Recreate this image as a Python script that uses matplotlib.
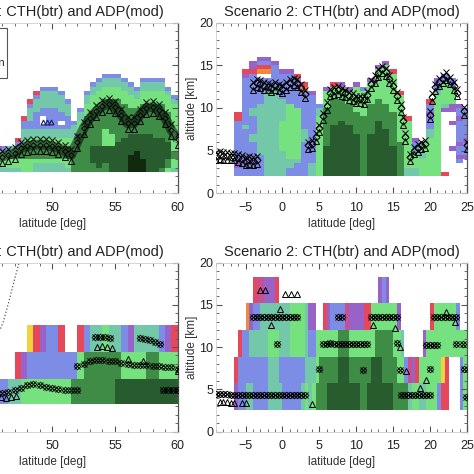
import matplotlib
matplotlib.use("Agg")
import matplotlib.pyplot as plt
import numpy as np
from matplotlib.colors import ListedColormap, BoundaryNorm
from matplotlib.patches import Rectangle
from matplotlib.ticker import MultipleLocator

plt.rcParams['font.family'] = ['Liberation Sans', 'DejaVu Sans']

# colour classes of the cross sections ('.' = no cloud)
codes = "KDMLTBPQROY"
code_colors = ["#10290f", "#285c2f", "#3f8c47", "#76e27f", "#72c8a8", "#7d8de6",
               "#9863c8", "#c9508e", "#e6475a", "#f08a36", "#f2d03e"]

# ---- top left: scenario 1, columns of 0.5 deg, cells of 0.5 km from 2.5 km up
tl_lat0, tl_dlat, tl_alt0, tl_dalt = 45.0, 0.5, 2.5, 0.5
tl_columns = [
    "TTLLLP", "TTLLLP", "TLLLLB", "TLLMLT", "TLLMMLBR",
    "LLLMMMLTTTBBR", "LLLMMMLLTTBBTTTBR", "TTLMMMLLTTBBBBTTTBR",
    "TTLMMMLLTTB..BBTTTTB", "TTLMMMLLTTBBBBBTTTTB", "TTLMMMLLTTBBBBBTTTTB",
    "TTLMMMLLTTB.BBTTTTB", "TLLMMMLLTTBBBTTTB", "MMMMMLLLTTTB",
    "MMMMMMMMMLLLTTB", "MMMMMMMMMMMMMLLLTTB", "MMDDDDMMMMMMMMLLLLTTB",
    "MDDDDDMMMMMMMMMLLLLTTB", "MMDDDDLLLLMMMMMMMLLLTTB", "DDDDDDLLLMMMMMMMMLLLTTB",
    "DDDDDDDMMMMMMMMMMLLLTTB", "DDDDDDDDMMMMMMMMLLLTTB", "KKKKDDDDDMMMMMMLLLTTB",
    "KKKKKDDDDMMMMMMLLTTB", "KKKDDDDDDMMMMMMMLLLTTB", "DDDDDDDDDMMMMMMMLLLTTB",
    "DDDDDDDDMMMMMMMMLLLTTB", "MDDDDDDDMMMMMMMMLLLTTB", "LMMDDDDMMMMMMMLLLLTB",
    "TLLMMLLLLLLLLLLLTB",
]
tl_band_lat = [45.5, 46.0, 46.5, 47.0, 47.5, 48.0, 48.5, 49.0, 49.5, 50.0, 50.5,
               51.0, 51.5, 52.0, 52.5, 53.0, 53.5, 54.0, 54.5, 55.0, 55.5, 56.0,
               56.5, 57.0, 57.5, 58.0, 58.5, 59.0, 59.5, 60.0]
tl_band_alt = [4.2, 4.3, 4.5, 4.7, 5.3, 5.5, 5.7, 5.7, 5.7, 5.5, 5.3,
               4.9, 4.5, 6.0, 7.6, 8.8, 9.6, 10.2, 10.5, 10.1, 9.2, 8.2,
               8.2, 9.2, 10.0, 10.1, 9.7, 8.8, 7.4, 6.3]
tl_spot_lat = [49.3, 49.6, 49.9]
tl_spot_alt = [8.3, 8.4, 8.3]

# ---- top right: scenario 2, columns of 1 deg, cells of 0.5 km from 2 km up
tr_lat0, tr_dlat, tr_alt0, tr_dalt = -6.5, 1.0, 2.0, 0.5
tr_columns = [
    "BBPBBBBBBBBBBRR", "BBBBPBBBBBBTBBBBBBBBBBBPR", "BBBPBBBBTTBBBBTTBBBBBBBBRPP",
    "BBBBBTTTTTTTTTTTTBBBBBB.ORBP", "TTTTTTTTTTTTTTTTTTTTBBB.ORBP",
    "TTTTTTTTTTTTTTTTTTTTTBBBBBP", "TTTTTTLLLLLLLTTTTTBBBBBBP",
    "BBTTLLLLLLLLLLLLLBBBBBBBP", "BBBTLLLLLLLLLLLLBBBBBBBR", "BBBBBBBBTTTBBBBBBBBBOR",
    "TTTBBBBBBBBBBBBBBBBP", "LLLLLLLLLLLLLLTTB", "DDDDDDDMMMMMMMMMLLLLP",
    "DDDDDDDDDDDDMMMMMMLLLR", "DDDDDDDDDDDDDMMMMMLLLP", "DDDDDDDDDDDDMMMMMLLLP",
    "DDDDDDDDDDMMMMMLLLLLLP", "MMMMMMMMMMMMMMLLLLLLB", "DDDDDDDDDDMMMMMMMLLLLLP",
    "DDDDDDDDDDDDDMMMMMLLLLLLLP", "DDDDDDDDDDDMMMMMMLLLLLLLLLP",
    "DDDDDDDMMMMMMMMLLLLLLLLLR", "MMMMMMMMLLLLLLLLLLLR", "TTLLLLLLLLLLLR",
    "TTLLLTBBP", "LLLLTTLT", "LLLLLLLLLTTBBBPBBR", "LLLLLLLLLLLLLLLLLLLTBBP",
    "R..............PTLLLLLBB", "......P.....P..PPLLLLBB", "...BPBBPBBBBBPBBP",
    "....PBBBPBBBBBBB",
]
tr_cth_lat = [-9.0, -8.5, -8.0, -7.5, -7.0, -6.5, -6.0, -5.5, -5.0, -4.5, -4.0, -3.5,
              -4.0, -3.5, -3.0, -2.5, -2.0, -1.5, -1.0, -0.5, 0.0, 0.5, 1.0, 1.5,
              2.0, 2.5, 3.0, 3.5, 4.0, 4.5, 5.0, 5.5, 6.0, 6.5, 7.0, 7.5, 8.0,
              8.5, 9.0, 9.5, 10.0, 10.5, 11.0, 11.5, 12.0, 12.5, 13.0, 13.5, 14.0,
              14.5, 15.0, 15.5, 16.0, 16.3, 16.6, 17.3, 17.8, 18.3, 18.8, 19.3,
              20.0, 20.2, 20.7, 21.2, 21.7, 22.2, 22.7, 23.2, 23.7, 24.6, 25.0]
tr_cth_alt = [4.4, 4.5, 4.4, 4.4, 4.3, 4.3, 4.1, 4.0, 3.8, 3.9, 3.8, 3.9,
              12.6, 12.9, 12.8, 12.6, 12.5, 12.3, 12.6, 12.4, 12.2, 12.6, 12.9, 13.1,
              12.9, 12.3, 11.6, 5.6, 5.8, 6.6, 7.6, 9.0, 10.2, 11.8, 12.0, 12.1, 11.9,
              11.7, 11.4, 11.3, 11.0, 11.0, 10.9, 11.5, 12.8, 13.4, 14.1, 14.5, 14.2,
              13.4, 12.6, 11.4, 10.0, 8.5, 6.6, 4.2, 5.0, 5.3, 5.6, 5.8,
              9.2, 11.3, 12.4, 13.0, 13.4, 13.7, 13.2, 12.6, 11.8, 9.6, 5.6]

# ---- bottom left: scenario 1, three 3 km layers, strips of 0.5 deg
bl_lat0, bl_dlat = 45.0, 0.5
bl_alt_edges = [3.2, 6.25, 9.4, 12.55]
bl_layers = [
    "BBBTTLLLLLLLLMMMMMMMDDDDDDDDDD",
    "....RPBBBBBBBBLMMMMMMLLLLMMLLL",
    "......YRPBBR..RBTTLTTBPTTTTBPR",
]
bl_chain_lat = [45.5, 46.0, 46.5, 47.0, 47.5, 48.0, 48.5, 49.0, 49.5, 50.0, 50.5, 51.0,
                51.5, 52.0, 52.0, 52.5, 53.0, 53.5, 54.0, 54.5, 55.0, 55.5, 56.0,
                56.5, 57.0, 57.5, 58.0, 58.5, 59.0, 59.5, 60.0,
                53.4, 53.8, 54.2, 54.6, 57.0, 57.4, 57.8, 58.2, 58.6,
                58.8, 59.2, 59.6, 60.0]
bl_chain_alt = [4.6, 4.6, 4.7, 4.9, 5.2, 5.5, 5.6, 5.5, 5.3, 5.1, 5.0, 4.9,
                4.9, 4.9, 7.8, 8.0, 8.3, 8.5, 8.5, 8.4, 8.3, 8.1, 8.0,
                7.9, 7.9, 7.9, 7.8, 7.7, 7.6, 7.6, 7.4,
                11.2, 11.2, 11.2, 11.1, 11.1, 11.0, 10.8, 10.6, 10.4,
                4.9, 4.9, 4.9, 4.9]
bl_tri_lat = [45.9, 46.3, 46.7, 47.1, 53.6, 54.0, 54.4, 54.8, 56.0, 57.2, 60.0]
bl_tri_alt = [4.1, 4.0, 4.1, 4.2, 10.0, 10.1, 10.0, 9.9, 8.6, 8.4, 7.2]
bl_dots_lat = [45.5, 45.84, 46.1, 46.5, 47.0, 47.4]
bl_dots_alt = [11.3, 12.0, 13.0, 15.1, 18.0, 20.2]

# ---- bottom right: scenario 2, five 3 km layers, strips of 0.5 deg
br_lat0, br_dlat = -7.0, 0.5
br_alt_edges = [2.6, 5.7, 8.85, 12.0, 15.15, 18.3]
br_layers = [
    ".PBBTTBBBBTTTTBBBBBTLTLMMMDDDDDDDDDMMDDDDDDDMMMMTLLTTLLLBRR...BL",
    ".RBBBBBBBBTTTBBBBBBBTTTLMMMMMDDDMMMMMMDDDMMMMLLBQPRLLLLLLYR...BL",
    "..RBBTTTTTLLLTTTLLLLTBBLLLLLLMMMLLLLLLLMMMMMLLT.....PLLLLLLLLLLL",
    "....OPBBTTTTTTTTLLLLTPP..RPBBBBQPPPPRRLLLLLLLP........RLLLLLLB..",
    "......RQQPPPR...........................PBP.....................",
]
br_chain_lat = [-9.0, -8.5, -8.0, -7.5, -7.0, -6.5, -6.0, -5.5, -5.0, -4.5, -4.0,
                -3.5, -3.0, -2.5, -2.0, -1.5, -1.0, -0.5, 0.0, 0.5, 1.0, 1.5, 2.0,
                2.5, 3.0,
                -4.0, -3.5, -3.0, -2.5, -2.0, -1.5, -1.0, -0.5, 0.0, 0.5, 1.0, 1.5,
                2.0, 7.5, 8.0, 12.0, 12.5, 13.0, 13.5, 14.0, 14.5, 15.0, 15.5,
                20.5, 21.0, 21.5, 22.0, 22.5, 23.0, 23.5,
                -0.8, 5.5, 6.0, 6.5, 7.0, 7.5, 8.0, 8.5, 9.0, 9.5, 10.0, 10.5,
                11.0, 11.5, 15.5, 19.5, 20.0, 20.5, 21.0, 23.5, 24.5,
                5.0, 10.9, 15.9, 20.0, 24.6,
                16.0, 16.5, 17.0, 17.5, 18.0, 18.5, 19.0, 19.5, 20.0, 24.8]
br_chain_alt = [4.4, 4.4, 4.4, 4.4, 4.3, 4.3, 4.3, 4.3, 4.3, 4.3, 4.3,
                4.3, 4.3, 4.3, 4.3, 4.3, 4.3, 4.3, 4.3, 4.3, 4.3, 4.3, 4.3,
                4.3, 4.3,
                13.5, 13.5, 13.5, 13.5, 13.5, 13.5, 13.5, 13.5, 13.5, 13.5, 13.5, 13.5,
                13.5, 13.5, 13.5, 13.5, 13.5, 13.5, 13.5, 13.5, 13.5, 13.5, 13.5,
                13.5, 13.5, 13.5, 13.5, 13.5, 13.5, 13.5,
                10.4, 10.4, 10.4, 10.5, 10.4, 10.4, 10.4, 10.4, 10.3, 10.4, 10.4, 10.4,
                10.4, 10.4, 10.5, 10.2, 10.2, 10.2, 10.2, 10.4, 10.4,
                7.4, 7.3, 7.3, 7.4, 7.4,
                4.3, 4.3, 4.3, 4.3, 4.3, 4.3, 4.3, 4.3, 4.3, 4.1]
br_tri_lat = [-8.5, -8.0, -7.5, -7.0, -6.5, -5.5, -5.0, -3.0, -2.4, 0.4, 1.2, 2.0,
              -1.6, -0.3, 4.0, 12.3, 15.3, 15.9, 16.7, 18.7, 19.4, 22.1, 23.4]
br_tri_alt = [3.5, 3.5, 3.5, 3.4, 3.4, 3.4, 3.4, 16.7, 16.7, 16.3, 16.3, 16.3,
              12.6, 14.5, 3.3, 12.6, 12.3, 10.0, 7.2, 5.1, 6.1, 14.2, 12.9]

cmap = ListedColormap(code_colors)
norm = BoundaryNorm(np.arange(len(codes) + 1) - 0.5, len(codes))


def columns_grid(columns):
    nrows = max(len(c) for c in columns)
    grid = np.full((nrows, len(columns)), np.nan)
    for j, col in enumerate(columns):
        for i, ch in enumerate(col):
            if ch != '.':
                grid[i, j] = codes.index(ch)
    return grid


def layers_grid(layers):
    grid = np.full((len(layers), len(layers[0])), np.nan)
    for i, row in enumerate(layers):
        for j, ch in enumerate(row):
            if ch != '.':
                grid[i, j] = codes.index(ch)
    return grid


def draw_cells(ax, lat_edges, alt_edges, grid):
    ax.pcolormesh(lat_edges, alt_edges, np.ma.masked_invalid(grid), cmap=cmap,
                  norm=norm, shading='flat', antialiased=False, linewidth=0, zorder=1)


def style(ax, xlim, title, title_x=0.5):
    ax.set_xlim(*xlim)
    ax.set_ylim(0, 20)
    ax.xaxis.set_major_locator(MultipleLocator(5))
    ax.xaxis.set_minor_locator(MultipleLocator(1))
    ax.yaxis.set_major_locator(MultipleLocator(5))
    ax.yaxis.set_minor_locator(MultipleLocator(1))
    ax.tick_params(which='both', direction='in', top=True, right=True,
                   colors='#555555', labelcolor='#222222', labelsize=9)
    ax.tick_params(which='major', length=4.5, width=0.8)
    ax.tick_params(which='minor', length=2.2, width=0.6)
    ax.tick_params(axis='x', pad=6)
    ax.tick_params(axis='y', pad=2)
    for side in ['left', 'top', 'bottom']:
        ax.spines[side].set_color('#d0d0d0')
        ax.spines[side].set_linewidth(0.6)
    ax.spines['right'].set_color('#555555')
    ax.spines['right'].set_linewidth(0.9)
    ax.set_title(title, fontsize=10.5, pad=4.5, color='#222222', x=title_x)
    ax.set_xlabel('latitude [deg]', fontsize=8.5, labelpad=3, color='#333333')
    ax.set_ylabel('altitude [km]', fontsize=8.5, labelpad=1, color='#333333')


def draw_marks(ax, lat, alt, ms, dy):
    lat = np.asarray(lat)
    alt = np.asarray(alt)
    ax.plot(lat, alt + dy, ls='none', marker='x', ms=ms, mew=0.7, color='k', zorder=3)
    ax.plot(lat, alt, ls='none', marker='D', ms=ms * 0.75, mew=0.7, mfc='none',
            mec='k', zorder=3)
    ax.plot(lat, alt - dy, ls='none', marker='^', ms=ms, mew=0.7, mfc='none',
            mec='k', zorder=3)


W = 474.0
fig = plt.figure(figsize=(4.74, 4.74), dpi=100)
ax_tl = fig.add_axes([-73.3 / W, 1 - 193.3 / W, 251 / W, 170.8 / W])
ax_tr = fig.add_axes([216 / W, 1 - 193.3 / W, 251 / W, 170.8 / W])
ax_bl = fig.add_axes([-73.3 / W, 1 - 431.5 / W, 251 / W, 169 / W])
ax_br = fig.add_axes([216 / W, 1 - 431.5 / W, 251 / W, 169 / W])

# top left
g = columns_grid(tl_columns)
draw_cells(ax_tl, tl_lat0 + tl_dlat * np.arange(g.shape[1] + 1),
           tl_alt0 + tl_dalt * np.arange(g.shape[0] + 1), g)
ax_tl.plot(tl_band_lat, tl_band_alt, color='k', lw=7, alpha=0.5, zorder=2,
           solid_capstyle='butt')
draw_marks(ax_tl, tl_band_lat, tl_band_alt, 3.8, 0.7)
ax_tl.plot(tl_spot_lat, tl_spot_alt, ls='none', marker='^', ms=3.5, mfc='none',
           mec='#1a1a60', mew=0.8, zorder=3)
ax_tl.add_patch(Rectangle((0.12, 0.675), 0.2, 0.293, transform=ax_tl.transAxes,
                          fill=False, ec='#555555', lw=0.8, zorder=4))
ax_tl.text(0.312, 0.76, 'CTH(btr) min', transform=ax_tl.transAxes, ha='right',
           va='center', fontsize=8, color='#222222', zorder=4)
style(ax_tl, (40, 60), 'Scenario 1: CTH(btr) and ADP(mod)', 0.475)

# top right
g = columns_grid(tr_columns)
draw_cells(ax_tr, tr_lat0 + tr_dlat * np.arange(g.shape[1] + 1),
           tr_alt0 + tr_dalt * np.arange(g.shape[0] + 1), g)
draw_marks(ax_tr, tr_cth_lat, tr_cth_alt, 4.8, 0.45)
style(ax_tr, (-9, 25), 'Scenario 2: CTH(btr) and ADP(mod)')

# bottom left
g = layers_grid(bl_layers)
draw_cells(ax_bl, bl_lat0 + bl_dlat * np.arange(g.shape[1] + 1), bl_alt_edges, g)
ax_bl.plot(bl_dots_lat, bl_dots_alt, ls=':', color='#555555', lw=0.9, zorder=2)
ax_bl.plot(bl_chain_lat, bl_chain_alt, ls='none', marker='x', ms=4.5, mew=0.7,
           color='k', zorder=3)
ax_bl.plot(bl_chain_lat, bl_chain_alt, ls='none', marker='D', ms=3.4, mew=0.6,
           mfc='none', mec='k', zorder=3)
ax_bl.plot(bl_tri_lat, bl_tri_alt, ls='none', marker='^', ms=4.5, mew=0.7,
           mfc='none', mec='k', zorder=3)
style(ax_bl, (40, 60), 'Scenario 1: CTH(btr) and ADP(mod)', 0.475)

# bottom right
g = layers_grid(br_layers)
draw_cells(ax_br, br_lat0 + br_dlat * np.arange(g.shape[1] + 1), br_alt_edges, g)
ax_br.plot(br_chain_lat, br_chain_alt, ls='none', marker='x', ms=4.5, mew=0.7,
           color='k', zorder=3)
ax_br.plot(br_chain_lat, br_chain_alt, ls='none', marker='D', ms=3.4, mew=0.6,
           mfc='none', mec='k', zorder=3)
ax_br.plot(br_tri_lat, br_tri_alt, ls='none', marker='^', ms=4.8, mew=0.7,
           mfc='none', mec='k', zorder=3)
style(ax_br, (-9, 25), 'Scenario 2: CTH(btr) and ADP(mod)')

fig.savefig('out.png', dpi=100)
